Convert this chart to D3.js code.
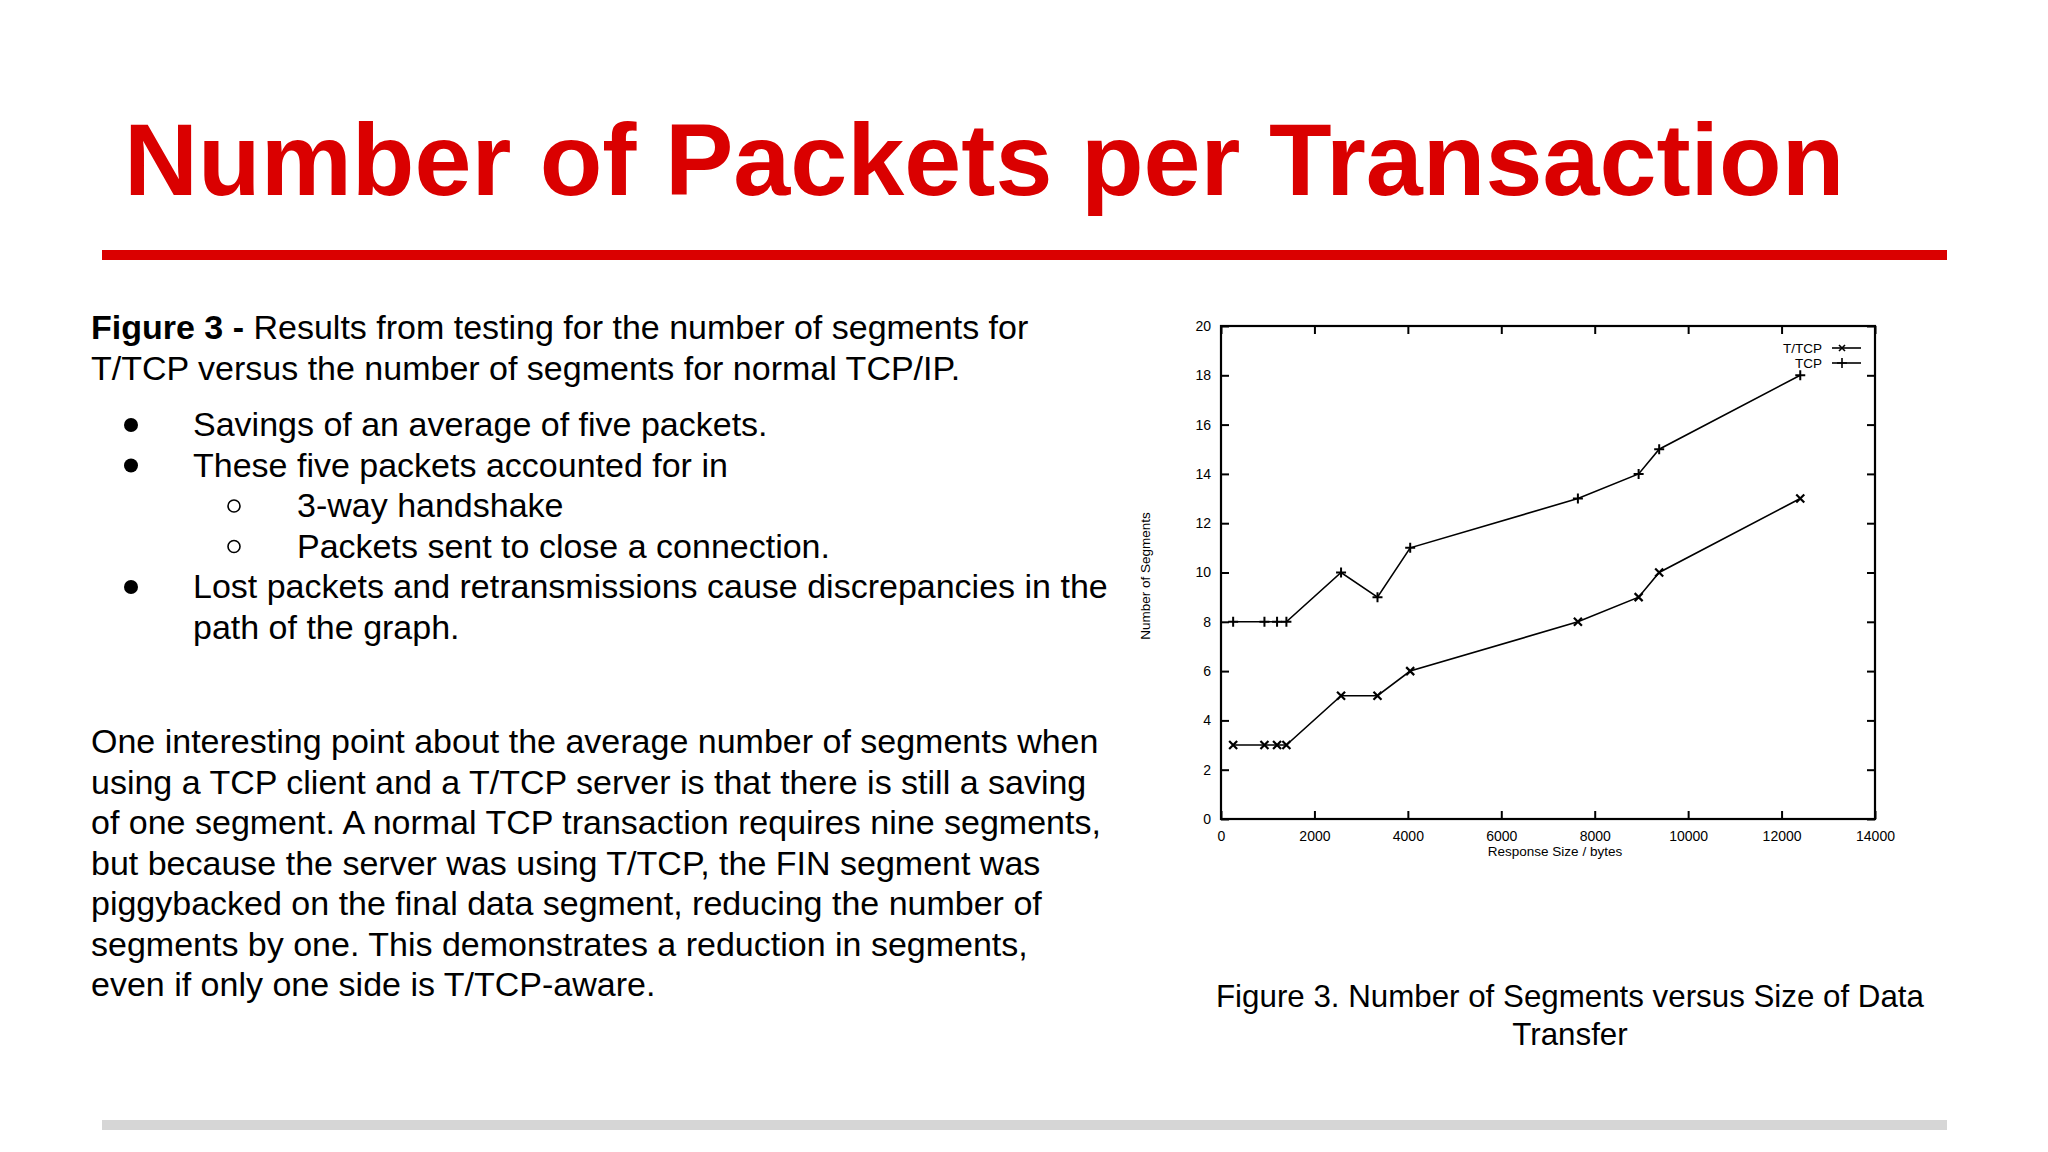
<!DOCTYPE html>
<html>
<head>
<meta charset="utf-8">
<script src="https://cdn.jsdelivr.net/npm/d3@7"></script>
<style>
  body { margin: 0; background: #fff; }
  svg { display: block; }
  text { font-family: Arial, "Liberation Sans", sans-serif; }
</style>
</head>
<body>
<div id="slide"></div>
<script>
// data
var responseSizes = [260, 930, 1200, 1400, 2570, 3350, 4050, 7640, 8940, 9380, 12400];
var tcpSegments = [8, 8, 8, 8, 10, 9, 11, 13, 14, 15, 18];
var ttcpSegments = [3, 3, 3, 3, 5, 5, 6, 8, 9, 10, 13];
var xTickValues = [0, 2000, 4000, 6000, 8000, 10000, 12000, 14000];
var yTickValues = [0, 2, 4, 6, 8, 10, 12, 14, 16, 18, 20];
var seriesNames = ["T/TCP", "TCP"];

var titleText = "Number of Packets per Transaction";
var bulletLines = [
  { level: 1, text: "Savings of an average of five packets." },
  { level: 1, text: "These five packets accounted for in" },
  { level: 2, text: "3-way handshake" },
  { level: 2, text: "Packets sent to close a connection." },
  { level: 1, text: "Lost packets and retransmissions cause discrepancies in the" },
  { level: 0, text: "path of the graph." }
];
var paragraphLines = [
  "One interesting point about the average number of segments when",
  "using a TCP client and a T/TCP server is that there is still a saving",
  "of one segment. A normal TCP transaction requires nine segments,",
  "but because the server was using T/TCP, the FIN segment was",
  "piggybacked on the final data segment, reducing the number of",
  "segments by one. This demonstrates a reduction in segments,",
  "even if only one side is T/TCP-aware."
];
var captionLines = ["Figure 3. Number of Segments versus Size of Data", "Transfer"];

const W = 2048, H = 1152;
const red = "#da0000";

const svg = d3.select("#slide")
  .append("svg")
  .attr("width", W)
  .attr("height", H);

svg.append("rect").attr("width", W).attr("height", H).attr("fill", "#fff");

// Title and rules
svg.append("text")
  .attr("x", 124)
  .attr("y", 195)
  .attr("fill", red)
  .style("font-size", "102.5px")
  .style("font-weight", "bold")
  .text(titleText);

svg.append("rect")
  .attr("x", 102).attr("y", 250)
  .attr("width", 1845).attr("height", 10)
  .attr("fill", red);

svg.append("rect")
  .attr("x", 102).attr("y", 1120)
  .attr("width", 1845).attr("height", 10)
  .attr("fill", "#d6d6d6");

// Left text block
const bodySize = 34, lineH = 40.5;
const intro = svg.append("g").style("font-size", bodySize + "px").attr("fill", "#000");

const l1 = intro.append("text").attr("x", 91).attr("y", 339);
l1.append("tspan").style("font-weight", "bold").text("Figure 3 -");
l1.append("tspan").text(" Results from testing for the number of segments for");
intro.append("text").attr("x", 91).attr("y", 339 + lineH)
  .text("T/TCP versus the number of segments for normal TCP/IP.");

const bullets = svg.append("g").style("font-size", bodySize + "px");
bulletLines.forEach(function (d, i) {
  var y = 436 + i * lineH;
  var tx = d.level === 2 ? 297 : 193;
  bullets.append("text").attr("x", tx).attr("y", y).text(d.text);
  if (d.level === 1) {
    bullets.append("circle").attr("cx", 131).attr("cy", y - 11).attr("r", 7).attr("fill", "#000");
  } else if (d.level === 2) {
    bullets.append("circle").attr("cx", 234).attr("cy", y - 11).attr("r", 6)
      .attr("fill", "none").attr("stroke", "#000").attr("stroke-width", 1.6);
  }
});

const para = svg.append("g").style("font-size", bodySize + "px");
paragraphLines.forEach(function (t, i) {
  para.append("text").attr("x", 91).attr("y", 753 + i * lineH).text(t);
});

// Caption
const cap = svg.append("g").style("font-size", "31.3px").attr("text-anchor", "middle");
captionLines.forEach(function (t, i) {
  cap.append("text").attr("x", 1570).attr("y", 1007 + i * 38).text(t);
});

// Chart
const plot = { left: 1221, top: 326, right: 1875, bottom: 819 };

const xScale = d3.scaleLinear().domain([0, 14000]).range([plot.left, plot.right]);
const yScale = d3.scaleLinear().domain([0, 20]).range([plot.bottom, plot.top]);

const chart = svg.append("g");
const tickLen = 8;

// inner ticks on all four sides
chart.append("g")
  .attr("transform", `translate(0,${plot.bottom})`)
  .call(d3.axisBottom(xScale).tickValues(xTickValues).tickSize(-tickLen).tickPadding(12).tickFormat(d3.format("d")))
  .call(g => g.select(".domain").remove());
chart.append("g")
  .attr("transform", `translate(0,${plot.top})`)
  .call(d3.axisTop(xScale).tickValues(xTickValues).tickSize(-tickLen).tickFormat(""))
  .call(g => g.select(".domain").remove());
chart.append("g")
  .attr("transform", `translate(${plot.left},0)`)
  .call(d3.axisLeft(yScale).tickValues(yTickValues).tickSize(-tickLen).tickPadding(10))
  .call(g => g.select(".domain").remove());
chart.append("g")
  .attr("transform", `translate(${plot.right},0)`)
  .call(d3.axisRight(yScale).tickValues(yTickValues).tickSize(-tickLen).tickFormat(""))
  .call(g => g.select(".domain").remove());

chart.selectAll(".tick line").attr("stroke", "#000").attr("stroke-width", 2);
chart.selectAll(".tick text")
  .attr("fill", "#000")
  .style("font-size", "14px")
  .style("font-family", "Arial, sans-serif");

chart.append("rect")
  .attr("x", plot.left).attr("y", plot.top)
  .attr("width", plot.right - plot.left).attr("height", plot.bottom - plot.top)
  .attr("fill", "none").attr("stroke", "#000").attr("stroke-width", 2.2);

// axis titles
chart.append("text")
  .attr("x", (plot.left + plot.right) / 2 + 7)
  .attr("y", 856)
  .attr("text-anchor", "middle")
  .style("font-size", "13.5px")
  .text("Response Size / bytes");

chart.append("text")
  .attr("transform", `translate(1150,${576}) rotate(-90)`)
  .attr("text-anchor", "middle")
  .style("font-size", "13.5px")
  .text("Number of Segments");

// series lines
const line = d3.line()
  .x((d, i) => xScale(responseSizes[i]))
  .y(d => yScale(d));

chart.append("path")
  .datum(tcpSegments)
  .attr("d", line)
  .attr("fill", "none").attr("stroke", "#000").attr("stroke-width", 1.6);

chart.append("path")
  .datum(ttcpSegments)
  .attr("d", line)
  .attr("fill", "none").attr("stroke", "#000").attr("stroke-width", 1.6);

// markers: "+" for TCP, "x" for T/TCP
const plusPath = "M-5,0H5M0,-5V5";
const crossPath = "M-4,-4L4,4M-4,4L4,-4";

chart.selectAll(".tcp-point")
  .data(tcpSegments)
  .enter()
  .append("path")
  .attr("class", "tcp-point")
  .attr("transform", (d, i) => `translate(${xScale(responseSizes[i])},${yScale(d)})`)
  .attr("d", plusPath)
  .attr("stroke", "#000").attr("stroke-width", 2);

chart.selectAll(".ttcp-point")
  .data(ttcpSegments)
  .enter()
  .append("path")
  .attr("class", "ttcp-point")
  .attr("transform", (d, i) => `translate(${xScale(responseSizes[i])},${yScale(d)})`)
  .attr("d", crossPath)
  .attr("stroke", "#000").attr("stroke-width", 2.2);

// legend
const legend = chart.append("g").style("font-size", "13.5px");
seriesNames.forEach(function (name, i) {
  var y = 348 + i * 15;
  legend.append("text")
    .attr("x", 1822).attr("y", y + 5)
    .attr("text-anchor", "end")
    .text(name);
  legend.append("line")
    .attr("x1", 1832).attr("x2", 1861)
    .attr("y1", y).attr("y2", y)
    .attr("stroke", "#000").attr("stroke-width", 1.6);
  legend.append("path")
    .attr("transform", `translate(1842,${y})`)
    .attr("d", i === 0 ? "M-3,-3L3,3M-3,3L3,-3" : plusPath)
    .attr("stroke", "#000").attr("stroke-width", 1.6);
});
</script>
</body>
</html>
